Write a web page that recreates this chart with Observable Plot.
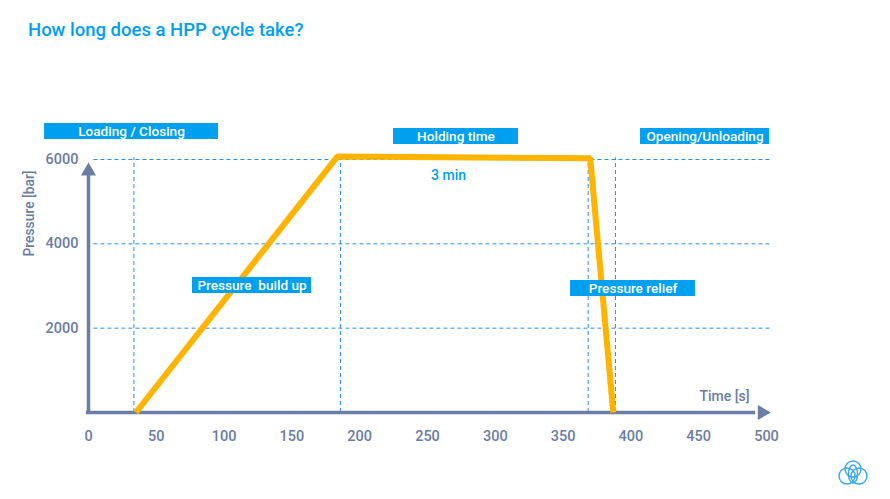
<!DOCTYPE html>
<html>
<head>
<meta charset="utf-8">
<script src="https://cdn.jsdelivr.net/npm/d3@7"></script>
<script src="https://cdn.jsdelivr.net/npm/@observablehq/plot@0.6"></script>
<style>
  html, body { margin: 0; padding: 0; background: #fff; }
  #wrap { position: relative; width: 890px; height: 499px; overflow: hidden; font-family: Roboto, "Noto Sans", sans-serif; }
  #title { position: absolute; left: 28px; top: 18px; font-size: 18.5px; line-height: 24px; font-weight: 500; color: #00a0f0; white-space: nowrap; }
  #chart { position: absolute; left: 0; top: 60px; }
  #chart text { white-space: pre; }
  #logo { position: absolute; left: 836px; top: 458px; }
</style>
</head>
<body>
<div id="wrap">
  <div id="title">How long does a HPP cycle take?</div>
  <div id="chart"></div>
  <svg id="logo" width="34" height="30" viewBox="0 0 34 30">
    <g fill="none" stroke="#3aa8f0" stroke-width="1.4">
      <circle cx="11" cy="18" r="8"/>
      <circle cx="23" cy="18" r="8"/>
      <circle cx="17" cy="11" r="8"/>
      <ellipse cx="17" cy="16" rx="4.5" ry="9"/>
    </g>
  </svg>
</div>
<script>
// ---- data ----
const xTicks = [0, 50, 100, 150, 200, 250, 300, 350, 400, 450, 500];
const yTicks = [2000, 4000, 6000];
const cycleTime = [35, 183.5, 370, 387];          // seconds
const cyclePressure = [0, 6070, 6030, 0];         // bar
const phaseBoundaries = [33.5, 185.8, 368.5, 388.6]; // seconds (dashed verticals)
const boxLabels = ["Loading / Closing", "Holding time", "Opening/Unloading", "Pressure  build up", "Pressure relief"];
const holdLabel = "3 min";
const xTitle = "Time [s]";
const yTitle = "Pressure [bar]";

// ---- annotation layout (in scale units) ----
const boxX1 = [-32.4, 224.9, 407.1, 76.7, 355.5];
const boxX2 = [95.9, 317.1, 502.2, 164.5, 447.6];
const boxY1 = [6474, 6356, 6356, 2822, 2751];
const boxY2 = [6854, 6735, 6735, 3202, 3130];

const cycle = cycleTime.map((t, i) => ({t, p: cyclePressure[i]}));
const boxes = boxLabels.map((label, i) => ({label, x1: boxX1[i], x2: boxX2[i], y1: boxY1[i], y2: boxY2[i]}));

const axisColor = "#6b7ca5";
const gridColor = "#2b8ee6";
const blue = "#00a0f0";

const chart = Plot.plot({
  width: 890,
  height: 439,
  marginLeft: 88,
  marginRight: 124,
  marginTop: 99,
  marginBottom: 87,
  style: {fontFamily: "Roboto, 'Noto Sans', sans-serif", background: "transparent", overflow: "visible"},
  x: {domain: [0, 500], axis: null},
  y: {domain: [0, 6000], axis: null},
  marks: [
    // dashed grid
    Plot.ruleY(yTicks, {x1: 4, x2: 503, stroke: gridColor, strokeWidth: 1, strokeDasharray: "4,3"}),
    Plot.ruleX(phaseBoundaries, {y1: 0, y2: 6040, stroke: gridColor, strokeWidth: 1, strokeDasharray: "4,3"}),
    // axes
    Plot.ruleY([0], {x1: -1.5, x2: 492, stroke: axisColor, strokeWidth: 3.5}),
    Plot.ruleX([0], {y1: 0, y2: 5650, stroke: axisColor, strokeWidth: 3.5}),
    Plot.dot([{x: 0, y: 5723}], {x: "x", y: "y", symbol: "triangle", r: 5.6, fill: axisColor, stroke: null}),
    Plot.dot([{x: 496.8, y: 0}], {x: "x", y: "y", symbol: "triangle", r: 5.6, rotate: 90, fill: axisColor, stroke: null}),
    Plot.axisX({ticks: xTicks, tickFormat: d => String(d), tickSize: 0, tickPadding: 18, fontSize: 14.5, fontWeight: 500, color: axisColor, label: null}),
    Plot.axisY({ticks: yTicks, tickFormat: d => String(d), tickSize: 0, tickPadding: 10, fontSize: 14.5, fontWeight: 500, color: axisColor, label: null}),
    Plot.text([xTitle], {x: 469, y: 379, fontSize: 14, fontWeight: 500, fill: axisColor}),
    Plot.text([yTitle], {x: -43.5, y: 4720, rotate: -90, fontSize: 13.8, fontWeight: 500, fill: axisColor}),
    // cycle line
    Plot.line(cycle, {x: "t", y: "p", stroke: "#ffb400", strokeWidth: 6, strokeLinejoin: "miter", strokeLinecap: "butt"}),
    // label boxes
    Plot.rect(boxes, {x1: "x1", x2: "x2", y1: "y1", y2: "y2", fill: blue}),
    Plot.text(boxes, {x: d => (d.x1 + d.x2) / 2, y: d => (d.y1 + d.y2) / 2, text: "label", fill: "white", fontSize: 13.6, fontWeight: 500}),
    Plot.text([holdLabel], {x: 265.5, y: 5621, fill: blue, fontSize: 14, fontWeight: 500})
  ]
});
document.getElementById("chart").appendChild(chart);
</script>
</body>
</html>
